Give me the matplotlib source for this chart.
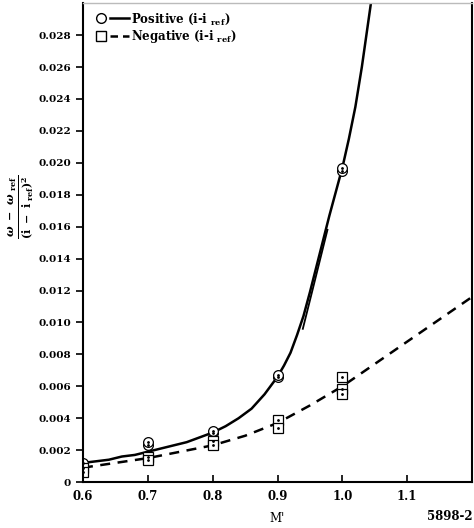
import matplotlib
matplotlib.use("Agg")
import matplotlib.pyplot as plt
from matplotlib.lines import Line2D
from matplotlib.legend_handler import HandlerTuple

plt.rcParams["font.family"] = "DejaVu Serif"
plt.rcParams["font.weight"] = "bold"
plt.rcParams["mathtext.fontset"] = "dejavuserif"

# measured points
pos_x = [0.6, 0.7, 0.7, 0.8, 0.8, 0.9, 0.9, 1.0, 1.0]
pos_y = [0.0012, 0.0023, 0.0025, 0.0031, 0.0032, 0.0066, 0.0067, 0.0195, 0.0197]
neg_x = [0.6, 0.6, 0.7, 0.7, 0.8, 0.8, 0.9, 0.9, 1.0, 1.0, 1.0]
neg_y = [0.0009, 0.0006, 0.0016, 0.0014, 0.0026, 0.0023, 0.0039, 0.0034, 0.0066, 0.0058, 0.0055]

# faired curves
pos_curve_x = [0.6, 0.62, 0.64, 0.66, 0.68, 0.7, 0.72, 0.74, 0.76, 0.78, 0.8, 0.82, 0.84,
               0.86, 0.88, 0.9, 0.91, 0.92, 0.93, 0.94, 0.95, 0.96, 0.97, 0.98, 0.99,
               1.0, 1.01, 1.02, 1.03, 1.044]
pos_curve_y = [0.0012, 0.0013, 0.0014, 0.0016, 0.0017, 0.0019, 0.0021, 0.0023, 0.0025,
               0.0028, 0.0031, 0.0035, 0.0040, 0.0046, 0.0055, 0.0066, 0.0073, 0.0081,
               0.0092, 0.0104, 0.0119, 0.0135, 0.0151, 0.0167, 0.0182, 0.0197, 0.0215,
               0.0235, 0.0260, 0.0300]
stray_x = [0.939, 0.955, 0.977]
stray_y = [0.0096, 0.0122, 0.0158]
neg_curve_x = [0.6, 0.65, 0.7, 0.75, 0.8, 0.85, 0.9, 0.95, 1.0, 1.1, 1.2]
neg_curve_y = [0.0009, 0.0012, 0.0015, 0.0019, 0.0023, 0.0029, 0.0037, 0.0048, 0.0060, 0.0088, 0.0116]

x_ticks = [0.6, 0.7, 0.8, 0.9, 1.0, 1.1]
x_labels = ["0.6", "0.7", "0.8", "0.9", "1.0", "1.1"]
y_ticks = [0.002 * i for i in range(15)]
y_labels = ["0"] + ["%.3f" % v for v in y_ticks[1:]]

fig = plt.figure(figsize=(4.74, 5.28), dpi=100)
ax = fig.add_axes([0.175, 0.087, 0.821, 0.907])

ax.plot(pos_curve_x, pos_curve_y, color="black", lw=1.8)
ax.plot(stray_x, stray_y, color="black", lw=1.3)
ax.plot(neg_curve_x, neg_curve_y, color="black", lw=1.8, ls=(0, (4, 3)))

ax.plot(pos_x, pos_y, ls="none", marker="o", ms=7, mfc="white", mec="black", mew=0.9)
ax.plot(neg_x, neg_y, ls="none", marker="s", ms=7, mfc="white", mec="black", mew=0.9)
ax.plot(pos_x + neg_x, pos_y + neg_y, ls="none", marker=".", ms=2, color="black")

ax.set_xlim(0.6, 1.2)
ax.set_ylim(0, 0.030)
ax.set_xticks(x_ticks)
ax.set_xticklabels(x_labels, fontsize=8.5)
ax.set_yticks(y_ticks)
ax.set_yticklabels(y_labels, fontsize=7.5)
ax.tick_params(axis="x", direction="in", length=5, width=1.2, pad=6)
ax.tick_params(axis="y", direction="out", length=5, width=1.2)
for s in ["left", "bottom", "right"]:
    ax.spines[s].set_linewidth(1.5)
ax.spines["top"].set_color("#bbbbbb")
ax.spines["top"].set_linewidth(1.0)

ax.set_xlabel("M'", fontsize=8.5, labelpad=6)
ax.set_ylabel(r"$\frac{\omega\ -\ \omega_{\ \rm ref}}{(\rm i\ -\ i_{\ ref})^{2}}$", fontsize=11.5)
ax.yaxis.set_label_coords(-0.12, 0.575)

h1 = (Line2D([], [], ls="none", marker="o", ms=7, mfc="white", mec="black"),
      Line2D([], [], color="black", lw=1.8))
h2 = (Line2D([], [], ls="none", marker="s", ms=7, mfc="white", mec="black"),
      Line2D([], [], color="black", lw=1.8, ls=(0, (3, 2))))
ax.legend([h1, h2], [r"Positive (i-i $_{\rm ref}$)", r"Negative (i-i $_{\rm ref}$)"],
          handler_map={tuple: HandlerTuple(ndivide=None, pad=0)},
          loc="upper left", frameon=False, fontsize=8.5, handlelength=3.2,
          handletextpad=0.2, labelspacing=0.1, borderaxespad=0.3)

fig.text(0.998, 0.022, "5898-2", fontsize=8.5, ha="right", va="center")

fig.savefig("out.png", dpi=100)
